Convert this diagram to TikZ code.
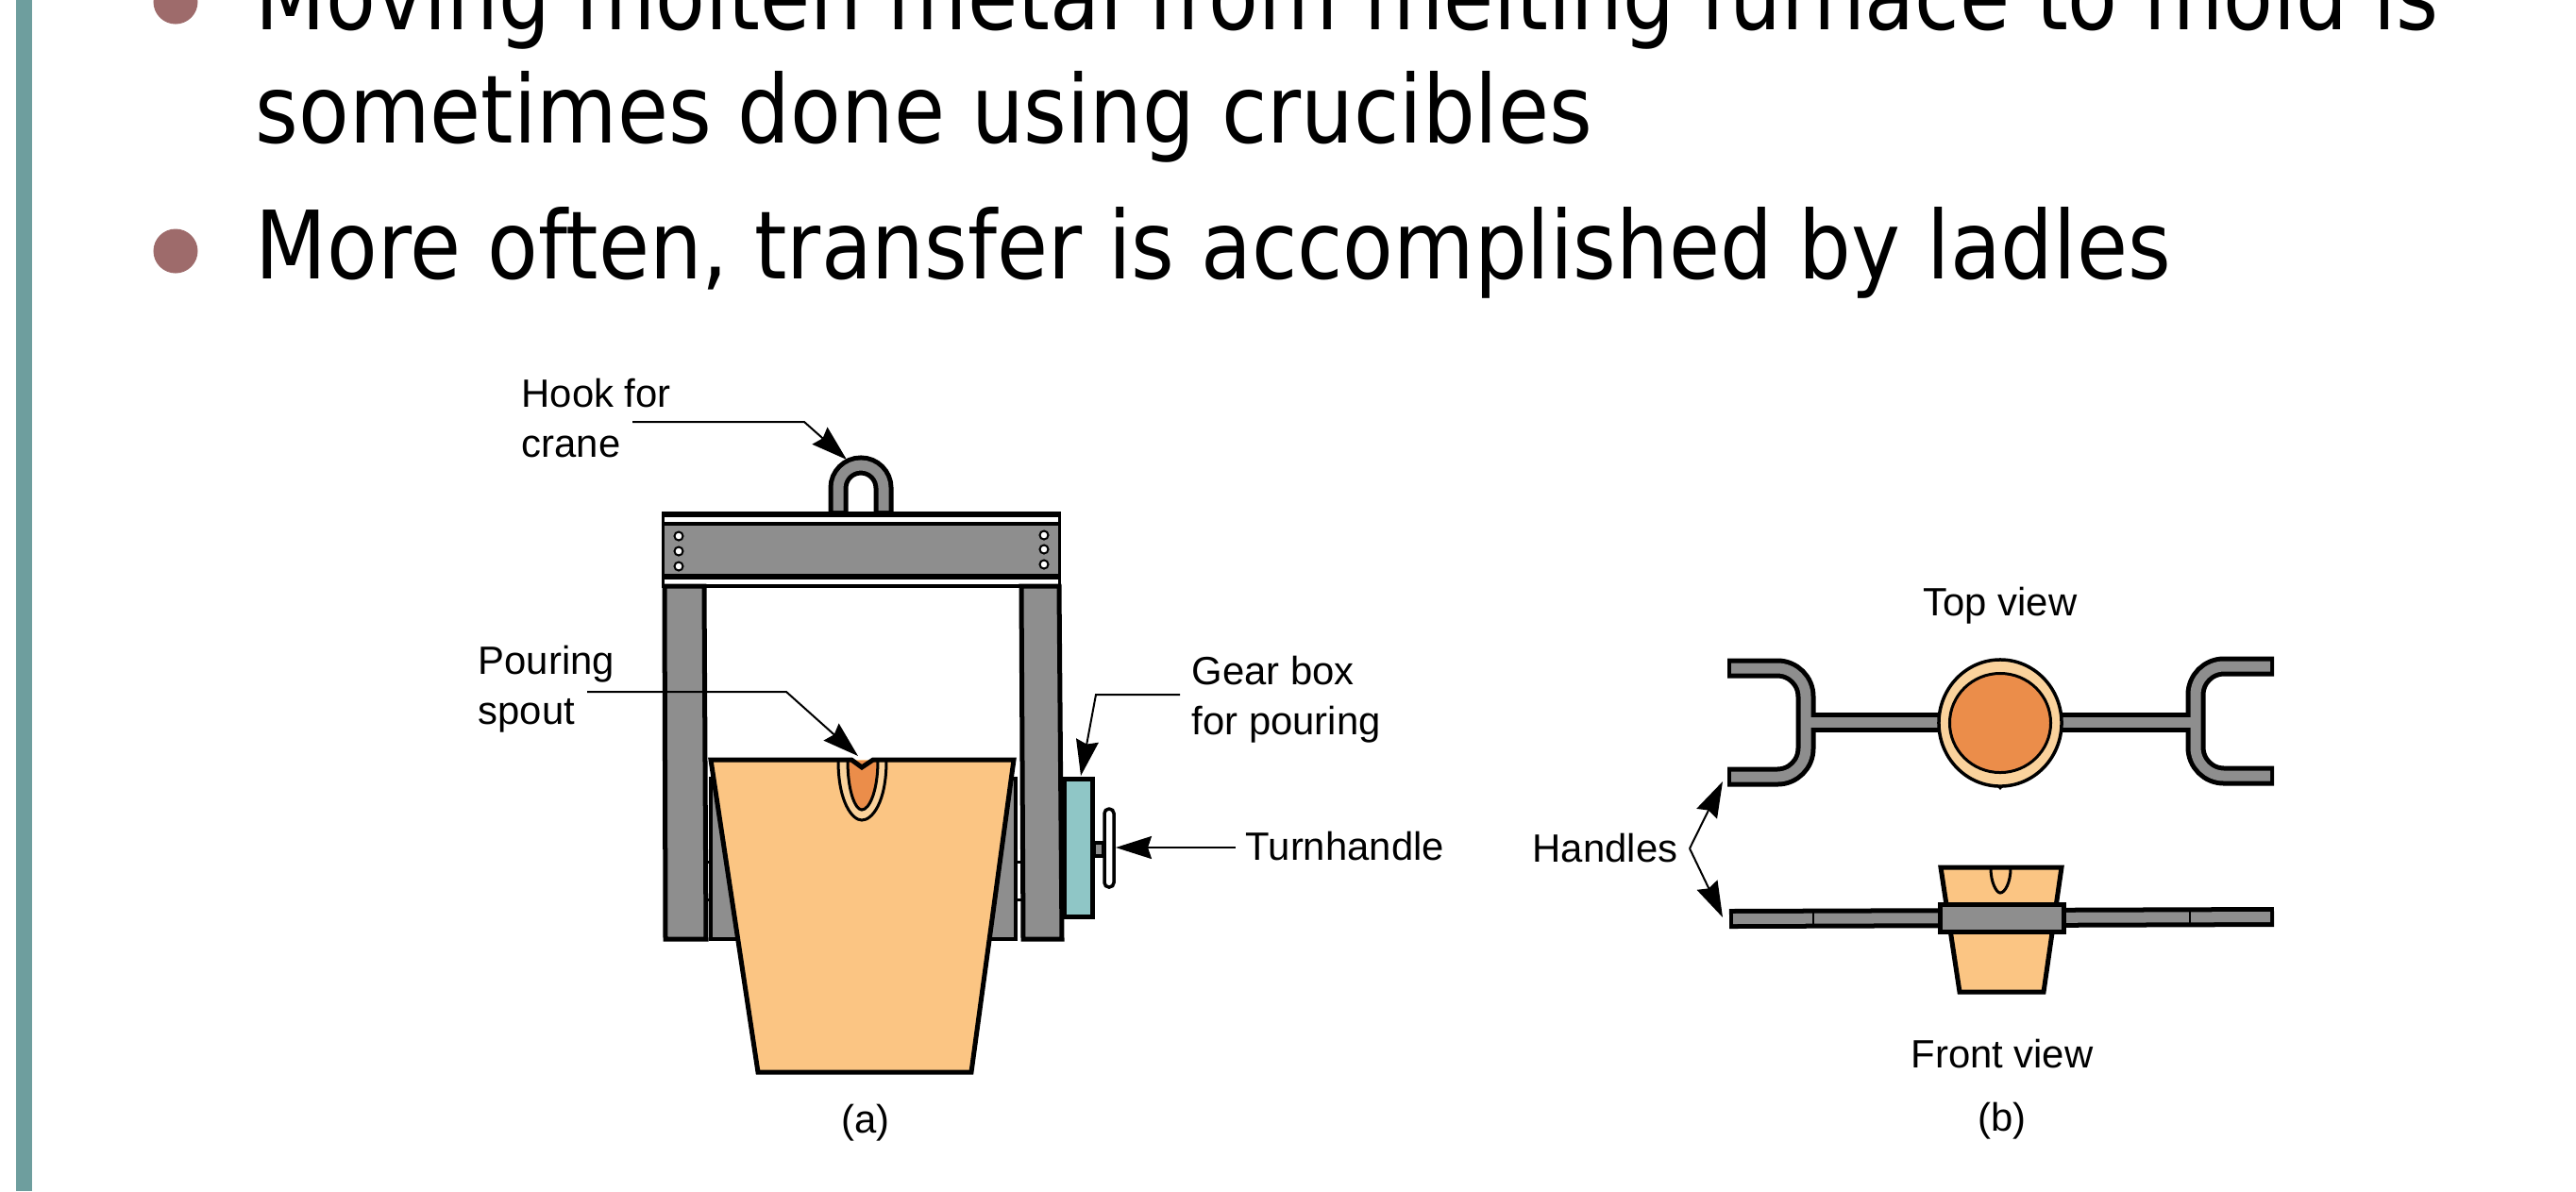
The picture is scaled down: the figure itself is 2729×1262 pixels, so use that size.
\documentclass[tikz,border=0pt]{standalone}
\usepackage{fontspec}
\usepackage{xcolor}
\usepackage{tikz}
\usetikzlibrary{arrows.meta, positioning}
\setmainfont{Liberation Sans}
\newfontfamily\slidefont[FakeStretch=0.878]{DejaVu Sans}
\newfontfamily\slidefontnarrow[FakeStretch=0.864]{DejaVu Sans}
\definecolor{slidebar}{HTML}{6E9E9E}
\definecolor{bulletrose}{HTML}{9E6B6B}
\definecolor{framegray}{HTML}{8E8E8E}
\definecolor{ladlefill}{HTML}{FBC583}
\definecolor{rimfill}{HTML}{FAD29C}
\definecolor{meltfill}{HTML}{EB8D4A}
\definecolor{gearfill}{HTML}{8FC6C6}
\newcommand{\bandline}[1]{%
	\draw[bandedge] #1; \draw[bandcore] #1;}
\newcommand{\bandfork}[2]{%
	\draw[bandedge] #1; \draw[bandedge] #2;
	\draw[bandcore] #1; \draw[bandcore] #2;}

\begin{document}
\begin{tikzpicture}[
			x=0.01cm, y=-0.01cm,
			slideline/.style={font=\slidefont\fontsize{28.45}{34}\selectfont, anchor=base west, align=left, inner sep=0pt},
			bullet/.style={circle, fill=bulletrose, minimum size=0.47cm, inner sep=0pt},
			callout/.style={font=\fontsize{11.9}{15}\selectfont, align=left, inner sep=0pt},
			leader/.style={line width=0.02cm, -{Stealth[length=0.38cm, width=0.24cm, inset=0.04cm]}},
			part/.style={line width=0.05cm, draw=black, line join=miter},
			thin part/.style={line width=0.03cm, draw=black},
			bandedge/.style={line width=0.21cm, draw=black},
			bandcore/.style={line width=0.11cm, draw=framegray, shorten <=0.04cm, shorten >=0.04cm}
			]
			\useasboundingbox (0,0) rectangle (2729,1262);
			\clip (0,0) rectangle (2729,1262);
			
			% Slide
			\fill[slidebar] (17,0) rectangle (34,1262);
			\node[bullet] (bullet1) at (186,2) {};
			\node[bullet] (bullet2) at (186,266) {};
			\node[slideline, font=\slidefontnarrow\fontsize{28.45}{34}\selectfont] (line1) at (270,31) {Moving molten metal from melting furnace to mold is};
			\node[slideline] (line2) at (270,151) {sometimes done using crucibles};
			\node[slideline] (line3) at (270,295) {More often, transfer is accomplished by ladles};
			
			% Hook and crossbar
			\bandline{(888,545) -- (888,517) arc[start angle=180, end angle=0, radius=0.24cm] -- (936,545)}
			\fill (701,542) rectangle (1124,623);
			\fill[white] (704,548) rectangle (1121,553);
			\fill[white] (704,614) rectangle (1121,619);
			\fill[framegray] (704,557) rectangle (1121,608);
			\foreach \holey in {568,584,600}
				\filldraw[fill=white, line width=0.02cm] (719,\holey) circle[radius=0.045cm];
			\foreach \holey in {567,582,598}
				\filldraw[fill=white, line width=0.02cm] (1106,\holey) circle[radius=0.045cm];
			
			% Frame legs, bracket
			\filldraw[part, fill=framegray] (704,621) -- (746,621) -- (748,995) -- (705,995) -- cycle;
			\filldraw[part, fill=framegray] (1082,621) -- (1122,621) -- (1125,995) -- (1084,995) -- cycle;
			\filldraw[thin part, line width=0.04cm, fill=framegray] (753,825) rectangle (1076,995);
			\foreach \piny in {913,953} {
				\draw[thin part] (748,\piny) -- (753,\piny);
				\draw[thin part] (1076,\piny) -- (1083,\piny);
			}
			
			% Gear box and wheel
			\filldraw[part, fill=gearfill] (1127,825) rectangle (1157,971);
			\filldraw[thin part, line width=0.035cm, fill=framegray] (1159,893) rectangle (1169,907);
			\filldraw[thin part, line width=0.035cm, fill=white, rounded corners=0.048cm] (1170,857) rectangle (1180,940);
			
			% Ladle with spout
			\fill[ladlefill] (753,805) -- (1074,805) -- (1029,1136) -- (803,1136) -- cycle;
			\filldraw[thin part, fill=rimfill] (888,806) .. controls (888,850) and (903,869) .. (913,869) .. controls (924,869) and (939,850) .. (939,806);
			\filldraw[thin part, fill=meltfill] (898,806) .. controls (898,838) and (906,858) .. (913,858) .. controls (921,858) and (930,838) .. (930,806);
			\draw[part] (753,805) -- (902,805) -- (913,813) -- (925,805) -- (1074,805) -- (1029,1136) -- (803,1136) -- cycle;
			
			% Top view
			\begin{scope}[rounded corners=0.3cm]
				\bandfork{(1913,765) -- (2058,765)}{(1830,708) -- (1913,708) -- (1913,823) -- (1830,823)}
				\bandfork{(2326,765) -- (2181,765)}{(2409,706) -- (2326,706) -- (2326,822) -- (2409,822)}
			\end{scope}
			\coordinate (pointtip) at (2119,837);
			\fill (2113,830) -- (pointtip) -- (2125,830) -- cycle;
			\filldraw[part, line width=0.035cm, fill=rimfill] (2119,766) ellipse[x radius=0.65cm, y radius=0.67cm];
			\filldraw[thin part, fill=meltfill] (2119,766) ellipse[x radius=0.535cm, y radius=0.525cm];
			
			% Front view
			\fill[ladlefill] (2056,919) -- (2184,919) -- (2165,1051) -- (2076,1051) -- cycle;
			\filldraw[thin part, fill=ladlefill] (2109,920) .. controls (2109,935) and (2115,946) .. (2119,946) .. controls (2124,946) and (2130,935) .. (2130,920);
			\draw[part] (2056,919) -- (2184,919) -- (2165,1051) -- (2076,1051) -- cycle;
			\bandline{(1832,973.5) -- (2409,971.5)}
			\draw[thin part, line width=0.015cm] (1921,966) -- (1921,981);
			\draw[thin part, line width=0.015cm] (2320,964) -- (2320,979);
			\filldraw[part, fill=framegray] (2055,958) rectangle (2186,987);
			
			% Labels
			\node[callout, anchor=west] (hooklabel) at (552,443) {Hook for\\crane};
			\node[callout, anchor=west] (spoutlabel) at (506,730) {Pouring\\spout};
			\node[callout, anchor=west] (gearlabel) at (1262,741) {Gear box\\for pouring};
			\node[callout, anchor=west] (turnlabel) at (1319,897) {Turnhandle};
			\node[callout, anchor=west] (handlelabel) at (1623,899) {Handles};
			\node[callout] (toplabel) at (2119,642) {Top view};
			\node[callout] (frontlabel) at (2121,1117) {Front view};
			\node[callout] (alabel) at (917,1190) {(a)};
			\node[callout] (blabel) at (2121,1188) {(b)};
			
			% Leaders
			\coordinate (hookstart) at (670,447);
			\coordinate (hookbend) at (852,447);
			\coordinate (hooktip) at (897,487);
			\coordinate (spoutstart) at (622,733);
			\coordinate (spoutbend) at (833,733);
			\coordinate (spouttip) at (909,801);
			\coordinate (gearstart) at (1250,736);
			\coordinate (gearbend) at (1161,736);
			\coordinate (geartip) at (1145,822);
			\coordinate (turnstart) at (1309,898);
			\coordinate (turntip) at (1182,898);
			\coordinate (handlefork) at (1790,899);
			\coordinate (handleup) at (1825,828);
			\coordinate (handledown) at (1825,972);
			\draw[leader] (hookstart) -- (hookbend) -- (hooktip);
			\draw[leader] (spoutstart) -- (spoutbend) -- (spouttip);
			\draw[leader] (gearstart) -- (gearbend) -- (geartip);
			\draw[leader] (turnstart) -- (turntip);
			\draw[leader] (handlefork) -- (handleup);
			\draw[leader] (handlefork) -- (handledown);
			
		\end{tikzpicture}
\end{document}
